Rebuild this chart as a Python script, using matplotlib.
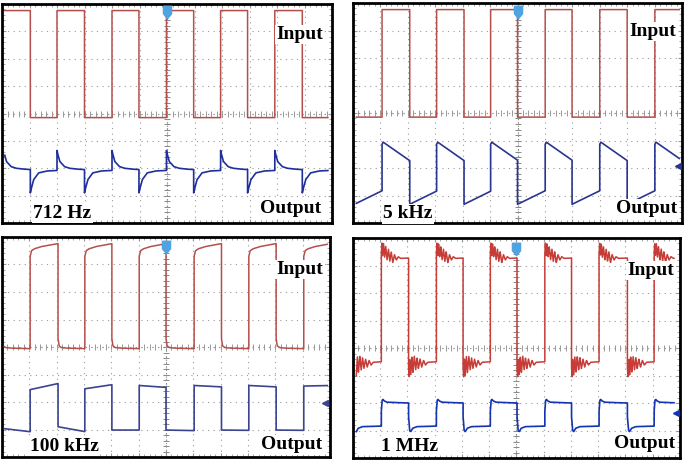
import numpy as np
import matplotlib.pyplot as plt
from matplotlib.path import Path

plt.rcParams['font.family'] = 'Liberation Serif'

RED = '#b4504c'
BLUE = '#25338f'
TRIG = '#4fa3e0'

# screen is 12 x 8 divisions; edge times in divisions
edges_712 = [1.03, 2.0, 3.0, 4.0, 4.98, 5.98, 6.97, 7.95, 8.93, 9.92, 10.92]
edges_5k = [1.06, 2.07, 3.05, 4.05, 5.02, 6.0, 7.01, 7.99, 9.0, 10.0, 11.01]
edges_100k = [1.03, 2.05, 3.03, 4.02, 5.02, 6.0, 7.03, 8.03, 9.03, 10.03, 11.04]
edges_1m = [1.04, 2.04, 3.06, 4.04, 5.04, 6.02, 7.04, 8.02, 9.03, 10.07, 11.05]

# 712 Hz
in712_hi = ([0, 1.2], [7.76, 7.76])
in712_lo = ([0, 1.2], [3.85, 3.85])
out712_hi = ([0, 0.02, 0.1, 0.27, 0.45, 0.7, 1.2], [2.65, 2.55, 2.25, 2.06, 2.0, 1.97, 1.94])
out712_lo = ([0, 0.02, 0.12, 0.3, 0.6, 1.2], [1.1, 1.2, 1.58, 1.83, 1.9, 1.93])

# 5 kHz
in5k_hi = ([0, 1.2], [7.76, 7.76])
in5k_lo = ([0, 1.2], [3.85, 3.85])
out5k_hi = ([0, 0.04, 1.0], [2.86, 2.94, 2.27])
out5k_lo = ([0, 1.0], [0.68, 1.17])

# 100 kHz
in100k_hi = ([0, 0.05, 0.15, 0.4, 1.0], [7.3, 7.5, 7.57, 7.65, 7.76])
in100k_lo = ([0, 0.04, 0.12, 0.3, 1.0], [4.3, 4.04, 3.98, 3.96, 3.94])
out100k_start = [1.04, 2.45, 1.1, 2.48, 0.98, 2.6, 0.98, 2.6, 0.98, 2.6, 0.98, 2.58]
out100k_end = [0.92, 2.67, 0.92, 2.63, 0.98, 2.53, 0.96, 2.55, 0.97, 2.55, 0.97, 2.6]

# 1 MHz
ring_t = [0, 0.02, 0.05, 0.08, 0.12, 0.16, 0.21, 0.26, 0.31, 0.36, 0.42, 0.48, 0.55, 0.62, 0.7, 1.0]
in1m_hi = (ring_t, [7.4, 7.82, 7.35, 7.8, 7.3, 7.7, 7.2, 7.6, 7.15, 7.5, 7.1, 7.4, 7.2, 7.32, 7.26, 7.27])
in1m_lo = (ring_t, [3.3, 2.95, 3.6, 3.0, 3.7, 3.1, 3.7, 3.2, 3.65, 3.25, 3.6, 3.3, 3.55, 3.38, 3.48, 3.5])
out1m_hi = ([0, 0.03, 0.06, 0.1, 0.2, 0.4, 1.0], [1.7, 2.1, 2.13, 2.08, 2.03, 2.02, 2.0])
out1m_lo = ([0, 0.04, 0.08, 0.15, 0.3, 1.0], [1.5, 1.0, 0.96, 1.08, 1.14, 1.16])

panels = [
    dict(rect=[2, 4, 330, 219], edges=edges_712, x0=0.1, x1=11.85, first_high=True,
         inp=(in712_hi, in712_lo), out=(out712_hi, out712_lo), label='712 Hz',
         txt=[(11.67, 6.72), (11.62, 0.38), (1.14, 0.18)], trig=7.69, arrow=None,
         red=RED, blue='#1f2f9c'),
    dict(rect=[353, 3, 329, 220], edges=edges_5k, x0=0.12, x1=11.9, first_high=False,
         inp=(in5k_hi, in5k_lo), out=(out5k_hi, out5k_lo), label='5 kHz',
         txt=[(11.78, 6.8), (11.81, 0.35), (1.1, 0.17)], trig=7.68, arrow=(11.86, 2.08),
         red=RED, blue='#2a3590'),
    dict(rect=[2, 237, 328, 220], edges=edges_100k, x0=0.08, x1=11.9, first_high=False,
         inp=(in100k_hi, in100k_lo), out=None, label='100 kHz',
         txt=[(11.76, 6.65), (11.7, 0.28), (1.02, 0.23)], trig=7.62, arrow=(11.83, 1.98),
         red=RED, blue='#3a4490'),
    dict(rect=[353, 238, 327, 220], edges=edges_1m, x0=0.12, x1=11.78, first_high=False,
         inp=(in1m_hi, in1m_lo), out=(out1m_hi, out1m_lo), label='1 MHz',
         txt=[(11.79, 6.65), (11.82, 0.35), (1.03, 0.27)], trig=7.6, arrow=(11.85, 1.64),
         red='#c63d38', blue='#1433b0'),
]


def trace(edges, x0, x1, templates, n=200):
    bounds = [x0] + edges + [x1]
    starts = [2 * edges[0] - edges[1]] + edges
    xs, ys = [], []
    for i in range(len(bounds) - 1):
        t = np.linspace(bounds[i], bounds[i + 1], n)
        tt, yy = templates[i]
        xs.append(t)
        ys.append(np.interp(t - starts[i], tt, yy))
    return np.concatenate(xs), np.concatenate(ys)


def alternate(first_high, hi, lo, count):
    out = []
    state = first_high
    for _ in range(count):
        out.append(hi if state else lo)
        state = not state
    return out


trig_marker = Path([(-0.65, 1), (0.65, 1), (0.65, -0.2), (0, -1), (-0.65, -0.2), (-0.65, 1)])

W, H = 685, 461
fig = plt.figure(figsize=(6.85, 4.61), dpi=100)

for p in panels:
    l, t, w, h = p['rect']
    ax = fig.add_axes([l / W, 1 - (t + h) / H, w / W, h / H])
    ax.set_xlim(0, 12)
    ax.set_ylim(0, 8)
    ax.set_xticks(np.arange(0, 13, 1))
    ax.set_yticks(np.arange(0, 9, 1))
    ax.set_xticks(np.arange(0, 12.01, 0.2), minor=True)
    ax.set_yticks(np.arange(0, 8.01, 0.2), minor=True)
    ax.tick_params(which='both', direction='in', top=True, right=True,
                   labelbottom=False, labelleft=False, color='#999999')
    ax.tick_params(which='major', length=3, width=0.8)
    ax.tick_params(which='minor', length=2, width=0.6)
    ax.grid(True, which='major', color='#9a9a9a', lw=0.8, ls=(0, (1, 4)))
    for s in ax.spines.values():
        s.set_linewidth(2)
        s.set_color('black')

    # centre graticule with minor ticks
    ax.axvline(6, color='#888888', lw=0.8, ls=(0, (1, 2)))
    ax.axhline(4, color='#999999', lw=0.8, ls=(0, (1, 4)))
    ym = np.arange(0, 8.01, 0.2)
    xm = np.arange(0, 12.01, 0.2)
    ax.plot(np.full(ym.size, 6), ym, ls='none', marker='_', ms=4, mew=0.7, color='#888888')
    ax.plot(xm, np.full(xm.size, 4), ls='none', marker='|', ms=4, mew=0.7, color='#999999')

    nseg = len(p['edges']) + 1
    tin = alternate(p['first_high'], p['inp'][0], p['inp'][1], nseg)
    xr, yr = trace(p['edges'], p['x0'], p['x1'], tin)
    ax.plot(xr, yr, color=p['red'], lw=1.1, zorder=3)

    if p['out'] is None:
        tout = [([0, 1.0], [a, b]) for a, b in zip(out100k_start, out100k_end)]
    else:
        tout = alternate(p['first_high'], p['out'][0], p['out'][1], nseg)
    xb, yb = trace(p['edges'], p['x0'], p['x1'], tout)
    ax.plot(xb, yb, color=p['blue'], lw=1.2, zorder=3)

    ax.plot([6], [p['trig']], marker=trig_marker, ms=9, color=TRIG, mec=TRIG, zorder=5)
    if p['arrow'] is not None:
        ax.plot([p['arrow'][0]], [p['arrow'][1]], marker='<', ms=4, color=p['blue'], zorder=5)

    box = dict(facecolor='white', edgecolor='none', pad=1)
    (xi, yi), (xo, yo), (xl, yl) = p['txt']
    ax.text(xi, yi, 'Input', ha='right', va='baseline', fontsize=14,
            fontweight='bold', bbox=box, zorder=6)
    ax.text(xo, yo, 'Output', ha='right', va='baseline', fontsize=14,
            fontweight='bold', bbox=box, zorder=6)
    ax.text(xl, yl, p['label'], ha='left', va='baseline', fontsize=14,
            fontweight='bold', bbox=box, zorder=6)

fig.savefig('out.png', dpi=100, facecolor='white')
